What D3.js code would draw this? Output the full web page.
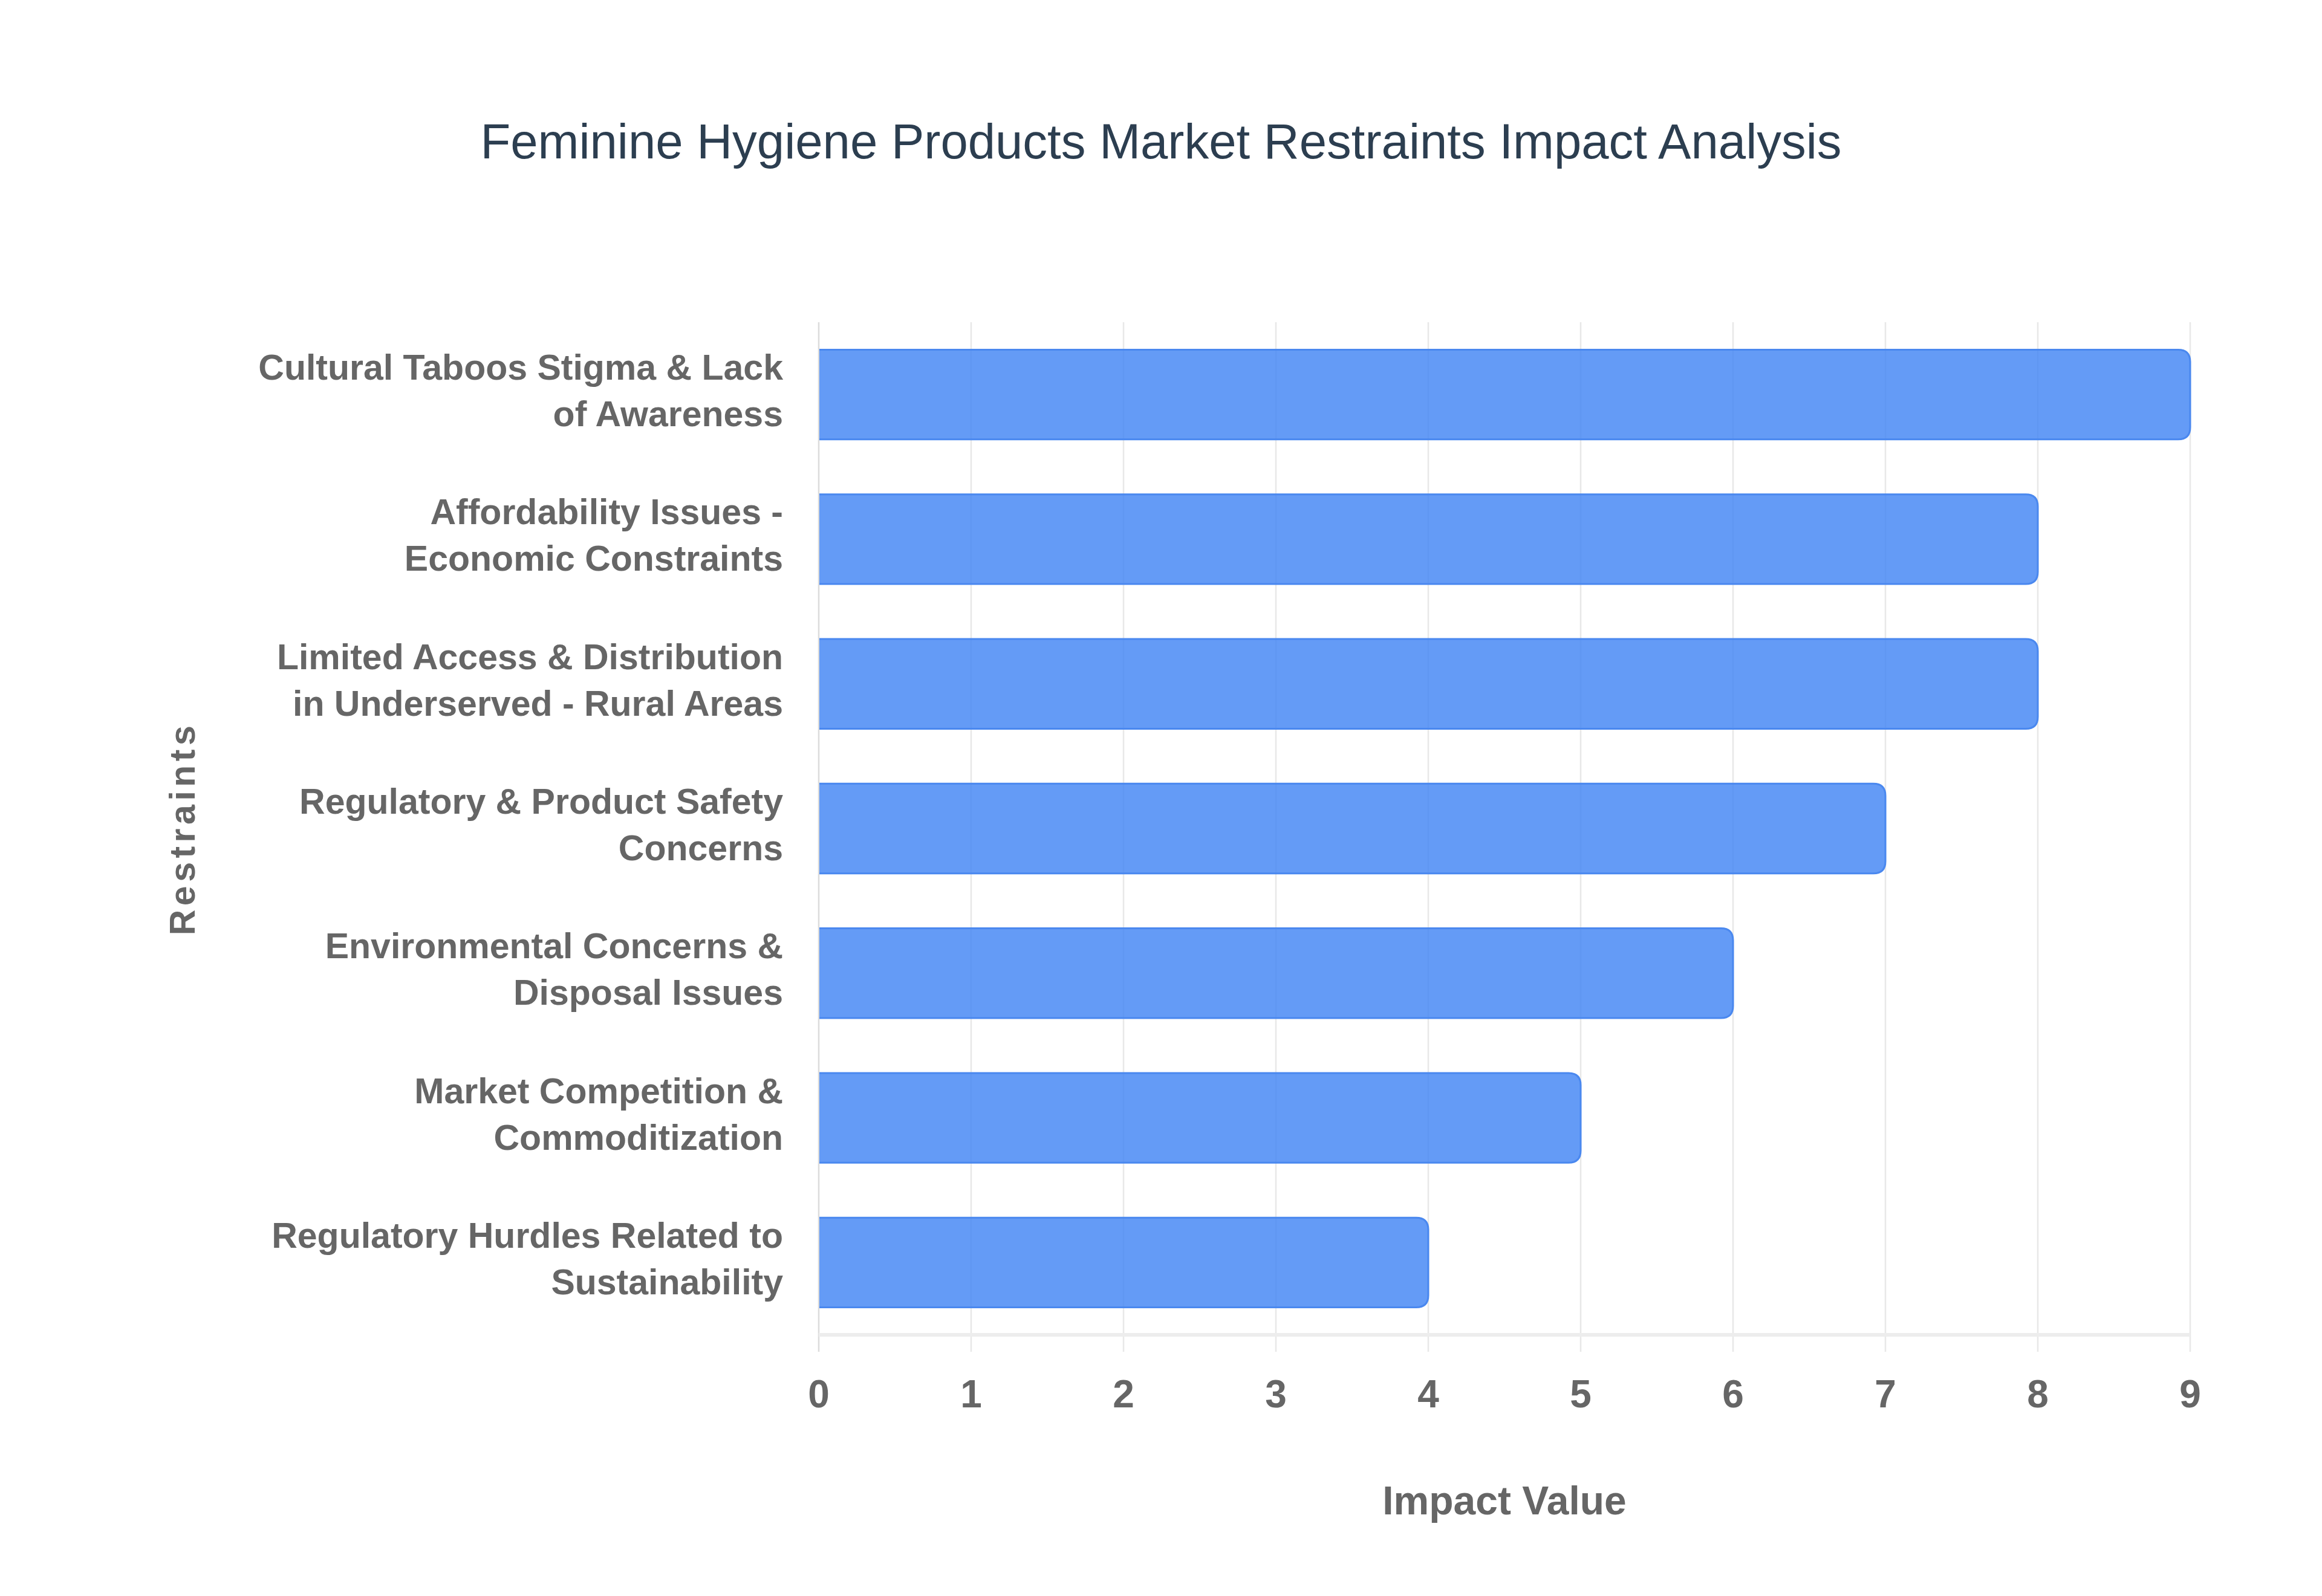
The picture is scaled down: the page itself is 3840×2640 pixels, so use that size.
<!DOCTYPE html>
<html>
<head>
<meta charset="utf-8">
<script src="https://cdn.jsdelivr.net/npm/d3@7"></script>
<style>
  body { margin: 0; background: #fff; }
  text { font-family: "Liberation Sans", Arial, Helvetica, sans-serif; }
</style>
</head>
<body>
<div class="chart"></div>
<script>
// chart data
const categories = [
  ['Cultural Taboos Stigma & Lack', 'of Awareness'],
  ['Affordability Issues -', 'Economic Constraints'],
  ['Limited Access & Distribution', 'in Underserved - Rural Areas'],
  ['Regulatory & Product Safety', 'Concerns'],
  ['Environmental Concerns &', 'Disposal Issues'],
  ['Market Competition &', 'Commoditization'],
  ['Regulatory Hurdles Related to', 'Sustainability']
];
const impactValues = [9, 8, 8, 7, 6, 5, 4];
const xTicks = [0, 1, 2, 3, 4, 5, 6, 7, 8, 9];

function drawChart() {
  const w = 3840;
  const h = 2640;
  const margin = { top: 533, right: 218, bottom: 432, left: 1354 };
  const innerW = w - margin.left - margin.right;
  const innerH = h - margin.top - margin.bottom;

  const svg = d3.select('.chart')
    .append('svg')
    .attr('width', w)
    .attr('height', h)
    .attr('viewBox', `0 0 ${w} ${h}`);

  svg.append('text')
    .attr('x', 1920)
    .attr('y', 262)
    .attr('text-anchor', 'middle')
    .attr('fill', '#2c3e50')
    .style('font-size', '81.5px')
    .text('Feminine Hygiene Products Market Restraints Impact Analysis');

  const chart = svg.append('g')
    .attr('transform', `translate(${margin.left}, ${margin.top})`);

  const x = d3.scaleLinear().domain([0, 9]).range([0, innerW]);
  const y = d3.scaleBand()
    .domain(d3.range(categories.length))
    .range([0, innerH])
    .paddingInner(0.38)
    .paddingOuter(0.19);

  // vertical grid lines, running past the axis like ticks
  chart.append('g')
    .selectAll('line')
    .data(xTicks)
    .enter()
    .append('line')
    .attr('x1', d => x(d))
    .attr('x2', d => x(d))
    .attr('y1', 0)
    .attr('y2', innerH + 28)
    .attr('stroke', d => d === 0 ? '#dcdcdc' : '#e8e8e8')
    .attr('stroke-width', 2.5);

  // bottom axis line
  chart.append('line')
    .attr('x1', 0)
    .attr('x2', innerW)
    .attr('y1', innerH)
    .attr('y2', innerH)
    .attr('stroke', '#ededed')
    .attr('stroke-width', 6);

  // bars: square on the left, rounded on the right
  const r = 20;
  const barPath = (v, i) => {
    const x0 = x(0) + 1;
    const x1 = x(v);
    const y0 = y(i);
    const y1 = y(i) + y.bandwidth();
    return `M${x0},${y0} L${x1 - r},${y0} Q${x1},${y0} ${x1},${y0 + r} ` +
      `L${x1},${y1 - r} Q${x1},${y1} ${x1 - r},${y1} L${x0},${y1}`;
  };

  const bar = chart.append('g')
    .selectAll('g')
    .data(impactValues)
    .enter()
    .append('g');

  bar.append('path')
    .attr('d', (d, i) => barPath(d, i) + 'Z')
    .attr('fill', 'rgba(66,133,244,0.82)');

  bar.append('path')
    .attr('d', (d, i) => barPath(d, i))
    .attr('fill', 'none')
    .attr('stroke', '#4a88ef')
    .attr('stroke-width', 3);

  // y labels, two lines each
  const yLabel = chart.append('g')
    .selectAll('text')
    .data(categories)
    .enter()
    .append('text')
    .attr('text-anchor', 'end')
    .attr('fill', '#666')
    .style('font-size', '59px')
    .style('font-weight', 'bold');

  yLabel.selectAll('tspan')
    .data((d, i) => d.map((line, k) => ({ line, k, i, n: d.length })))
    .enter()
    .append('tspan')
    .attr('x', -59)
    .attr('y', d => y(d.i) + y.bandwidth() / 2 + (d.k - (d.n - 1) / 2) * 77 + 14)
    .text(d => d.line);

  // x tick labels
  chart.append('g')
    .selectAll('text')
    .data(xTicks)
    .enter()
    .append('text')
    .attr('x', d => x(d))
    .attr('y', innerH + 120)
    .attr('text-anchor', 'middle')
    .attr('fill', '#666')
    .style('font-size', '64px')
    .style('font-weight', 'bold')
    .text(d => d);

  // axis titles
  svg.append('text')
    .attr('x', margin.left + innerW / 2)
    .attr('y', 2505)
    .attr('text-anchor', 'middle')
    .attr('fill', '#666')
    .style('font-size', '66px')
    .style('font-weight', 'bold')
    .text('Impact Value');

  svg.append('text')
    .attr('transform', `translate(322, ${margin.top + innerH / 2}) rotate(-90)`)
    .attr('text-anchor', 'middle')
    .attr('fill', '#666')
    .style('font-size', '59px')
    .style('font-weight', 'bold')
    .style('letter-spacing', '6.5px')
    .text('Restraints');
}

drawChart();
</script>
</body>
</html>
